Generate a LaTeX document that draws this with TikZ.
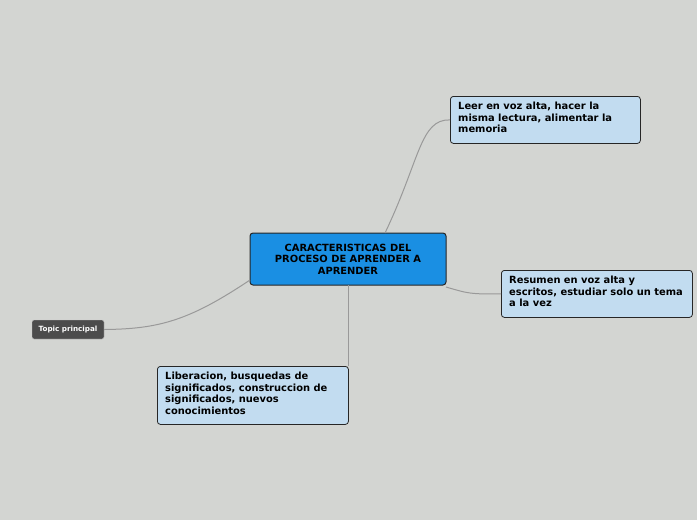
\documentclass[tikz,border=0pt]{standalone}
\usepackage{fontspec}
\setmainfont{DejaVu Sans}
\begin{document}
\begin{tikzpicture}[x=1pt,y=-1pt,
  sub/.style={draw=black!85,fill=subfill,rounded corners=3pt,line width=0.8pt,anchor=north west,inner sep=0pt},
  txt/.style={anchor=north west,align=left,inner sep=0pt,font=\fontsize{9.9}{11.6}\selectfont\bfseries},
  conn/.style={draw=gray!80,line width=1pt}]
\definecolor{bg}{HTML}{D3D5D2}
\definecolor{subfill}{HTML}{C2DCF0}
\definecolor{mainfill}{HTML}{1A8FE3}
\fill[bg] (0,0) rectangle (697,520);
\useasboundingbox (0,0) rectangle (697,520);
\node[draw=black!85,fill=mainfill,rounded corners=3pt,line width=1pt,minimum width=196pt,minimum height=52pt,inner sep=0pt] (c) at (348,259) {};
\node[align=center,inner sep=0pt,font=\fontsize{9.9}{11.6}\selectfont\bfseries] at (348,259) {CARACTERISTICAS DEL\\PROCESO DE APRENDER A\\APRENDER};
\node[draw=white!80!black,fill=black!70,rounded corners=2pt,minimum width=72pt,minimum height=19pt,inner sep=0pt,text=white,font=\fontsize{7.2}{8}\selectfont\bfseries] (t) at (68,329.5) {Topic principal};
\node[sub,minimum width=190pt,minimum height=47pt] (b1) at (450,96) {};
\node[txt] at (458,102) {Leer en voz alta, hacer la\\misma lectura, alimentar la\\memoria};
\node[sub,minimum width=191pt,minimum height=47pt] (b2) at (501,270) {};
\node[txt] at (509,276) {Resumen en voz alta y\\escritos, estudiar solo un tema\\a la vez};
\node[sub,minimum width=191pt,minimum height=58pt] (b3) at (157,366) {};
\node[txt] at (165,372) {Liberacion, busquedas de\\significados, construccion de\\significados, nuevos\\conocimientos};
\coordinate (c1) at (385,233);
\coordinate (c2) at (446,287);
\coordinate (c3) at (348,285);
\coordinate (c4) at (250,280);
\draw[conn] (c1) .. controls (420,160) and (420,119) .. (b1.west);
\draw[conn] (c2) .. controls (470,294) .. (b2.west);
\draw[conn] (c3) -- (b3.north east -| c3);
\draw[conn] (c4) .. controls (190,320) and (160,329) .. (t.east);
\end{tikzpicture}
\end{document}
